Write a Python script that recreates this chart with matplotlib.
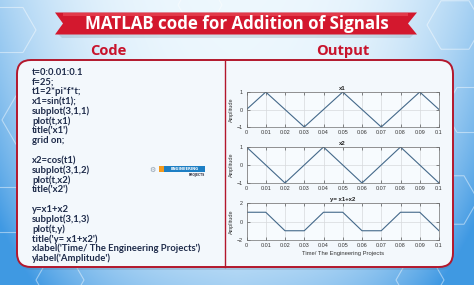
import numpy as np
import matplotlib
matplotlib.use("Agg")
import matplotlib.pyplot as plt
from matplotlib.patches import FancyBboxPatch, Polygon, RegularPolygon, Rectangle

# ---------------- data ----------------
t = [0, 0.01, 0.02, 0.03, 0.04, 0.05, 0.06, 0.07, 0.08, 0.09, 0.1]
x1 = [0, 1, 0, -1, 0, 1, 0, -1, 0, 1, 0]
x2 = [1, 0, -1, 0, 1, 0, -1, 0, 1, 0, -1]
y_sum = [1, 1, -1, -1, 1, 1, -1, -1, 1, 1, -1]
xtick_labels = ['0', '0.01', '0.02', '0.03', '0.04', '0.05', '0.06', '0.07', '0.08', '0.09', '0.1']
subplot_titles = ['x1', 'x2', 'y= x1+x2']
yticks_small = [-1, 0, 1]
yticks_big = [-2, 0, 2]
code_lines = [
    "t=0:0.01:0.1", "f=25;", "t1=2*pi*f*t;", "x1=sin(t1);", "subplot(3,1,1)",
    "plot(t,x1)", "title('x1')", "grid on;", "",
    "x2=cos(t1)", "subplot(3,1,2)", "plot(t,x2)", "title('x2')", "",
    "y=x1+x2", "subplot(3,1,3)", "plot(t,y)", "title('y= x1+x2')",
    "xlabel('Time/ The Engineering Projects')", "ylabel('Amplitude')",
]
main_title = "MATLAB code for Addition of Signals"

W, H = 474, 285
fig = plt.figure(figsize=(W / 100, H / 100), dpi=100)

# ---------------- background ----------------
bg = fig.add_axes([0, 0, 1, 1])
bg.set_xlim(0, W)
bg.set_ylim(H, 0)
bg.axis('off')
u = np.linspace(0, 1, W)[None, :]
v = np.linspace(0, 1, H)[:, None]
dx = np.abs(u - 0.5) * 2
f = np.clip(0.75 * dx ** 3 * (0.55 + 0.45 * v) + 0.4 * v ** 3 + 0.15 * dx * v, 0, 1)
c0 = np.array([0.93, 0.97, 0.995])
c1 = np.array([0.25, 0.60, 0.89])
img = c0[None, None, :] * (1 - f[..., None]) + c1[None, None, :] * f[..., None]
bg.imshow(img, extent=[0, W, H, 0], aspect='auto', zorder=0)

for (cx, cy, r) in [(10, 30, 26), (30, 120, 28), (10, 210, 26), (455, 25, 28), (470, 110, 26),
                    (450, 200, 28), (60, 280, 24), (420, 280, 24), (200, 5, 22)]:
    bg.add_patch(RegularPolygon((cx, cy), 6, radius=r, orientation=np.pi / 6,
                                facecolor='none', edgecolor='white', lw=0.8, alpha=0.45, zorder=1))

# banner shadow + ribbon
bg.add_patch(Polygon([(58, 34), (414, 34), (410, 38), (62, 38)], closed=True,
                     facecolor='#7a8ea0', alpha=0.25, lw=0, zorder=2))
bg.add_patch(Polygon([(55, 12.5), (417, 12.5), (408, 23.5), (417, 34.5), (55, 34.5), (63, 23.5)],
                     closed=True, facecolor='#d3182e', edgecolor='none', zorder=3))
bg.add_patch(Rectangle((63, 12.5), 345, 3, facecolor='#e23a4a', lw=0, zorder=3))
bg.text(237, 24, main_title, color='white', fontsize=12.2, fontweight='bold',
        family='Open Sans', ha='center', va='center', zorder=4)

bg.text(108, 51, "Code", color='#c8132c', fontsize=10.6, fontweight='bold',
        family='Open Sans', ha='center', va='center', zorder=4)
bg.text(343, 51, "Output", color='#c8132c', fontsize=10.6, fontweight='bold',
        family='Open Sans', ha='center', va='center', zorder=4)

# box
bg.add_patch(FancyBboxPatch((19, 64), 434, 206, boxstyle="round,pad=0,rounding_size=14",
                            facecolor='#5a6a7a', edgecolor='none', alpha=0.18, zorder=2))
bg.add_patch(FancyBboxPatch((17, 60), 436, 207, boxstyle="round,pad=0,rounding_size=14",
                            facecolor='#f3f8fc', edgecolor='#b3172c', lw=1.4, zorder=3))
bg.plot([225, 225], [60, 267], color='#b3172c', lw=1.0, zorder=4)

# code
for i, line in enumerate(code_lines):
    if line:
        bg.text(32, 72.3 + i * 9.8, line, color='#1e2b4a', fontsize=6.8, fontweight='bold',
                family='Lato', ha='left', va='center', zorder=4)

# logo
bg.add_patch(Rectangle((159, 166), 5, 6, facecolor='#f39a1e', lw=0, zorder=4))
bg.add_patch(Rectangle((164, 166), 41, 6, facecolor='#1d7fc4', lw=0, zorder=4))
bg.text(184.5, 169, "ENGINEERING", color='white', fontsize=2.6, fontweight='bold',
        family='DejaVu Sans', ha='center', va='center', zorder=5)
bg.text(205, 175, "PROJECTS", color='#334', fontsize=2.2, fontweight='bold',
        family='DejaVu Sans', ha='right', va='center', zorder=5)
bg.text(152, 170, "⚙", color='#8899aa', fontsize=5, ha='center', va='center', zorder=5)

# ---------------- subplots ----------------
line_color = '#44698a'
series = [x1, x2, y_sum]
yt = [yticks_small, yticks_small, yticks_big]
tops = [92, 147, 203]
bots = [127, 183, 240]
left, right = 246.5, 439
for k in range(3):
    ax = fig.add_axes([left / W, 1 - bots[k] / H, (right - left) / W, (bots[k] - tops[k]) / H])
    ax.set_facecolor('#f7fbfe')
    ax.plot(t, series[k], color=line_color, lw=0.8)
    ax.set_xlim(0, 0.1)
    ax.set_ylim(yt[k][0], yt[k][-1])
    ax.set_xticks(t)
    ax.set_xticklabels(xtick_labels)
    ax.set_yticks(yt[k])
    ax.grid(True, color='#d6d9dc', lw=0.5)
    ax.set_axisbelow(True)
    ax.tick_params(direction='in', length=2, width=0.4, top=True, right=True,
                   labelsize=3.9, pad=2.5, colors='#333333')
    for lab in ax.get_xticklabels() + ax.get_yticklabels():
        lab.set_family('Liberation Sans')
    for s in ax.spines.values():
        s.set_color('#707070')
        s.set_linewidth(0.5)
    ax.set_title(subplot_titles[k], fontsize=4.3, fontweight='bold', pad=1.5,
                 family='Liberation Sans', color='#222222')
    ax.set_ylabel('Amplitude', fontsize=4, family='Liberation Sans', labelpad=2, color='#333333')
    if k == 2:
        ax.set_xlabel('Time/ The Engineering Projects', fontsize=4.2, family='Liberation Sans',
                      labelpad=2, color='#333333')

fig.savefig('out.png', dpi=100)
